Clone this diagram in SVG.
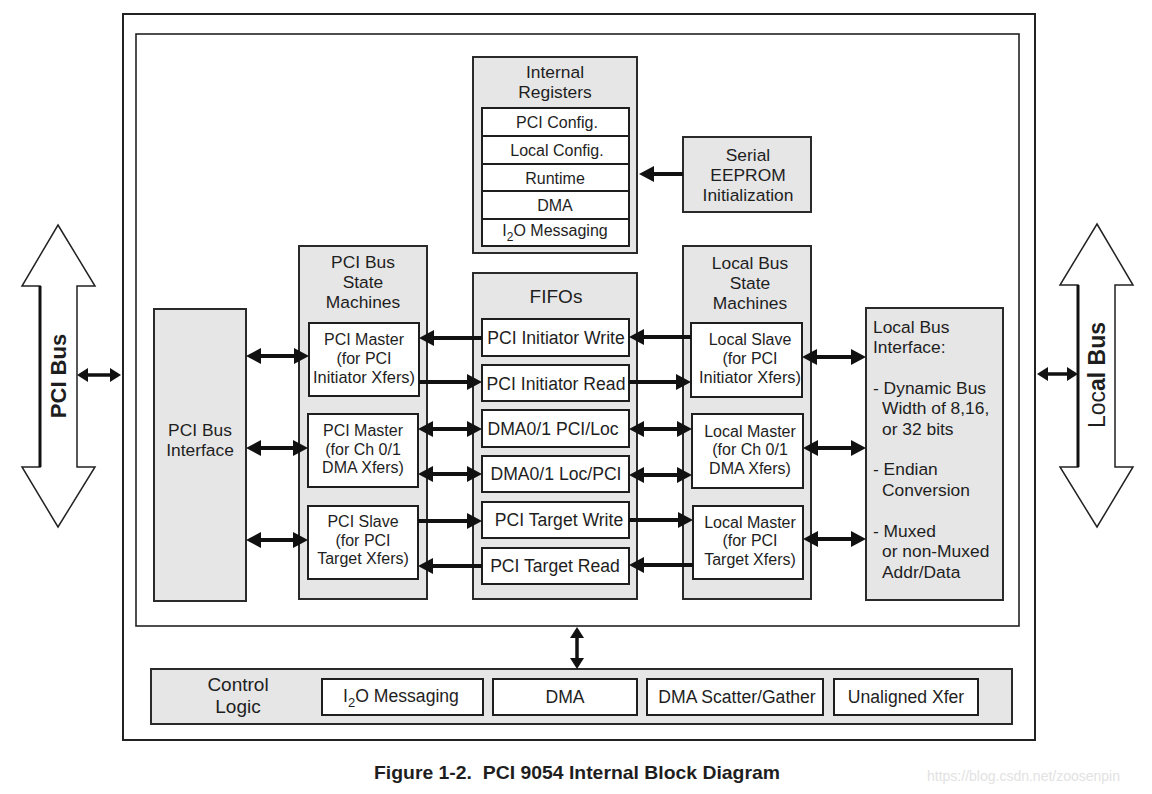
<svg xmlns="http://www.w3.org/2000/svg" width="1152" height="794" viewBox="0 0 1152 794">
<defs>
<style>
text{font-family:"Liberation Sans",Arial,sans-serif;fill:#1e1e1e;font-size:16px}
.c{text-anchor:middle}
.t{font-size:17.4px}
.g{fill:#e6e6e6;stroke:#2a2a2a;stroke-width:2}
.w{fill:#ffffff;stroke:#1e1e1e;stroke-width:2}
.f{font-size:17.6px}
.ln{stroke:#111;stroke-width:4;fill:none}
.sl{stroke:#111;stroke-width:3.5;fill:none}
.big{fill:#fff;stroke:#222;stroke-width:1.5}
</style>
<marker id="ah" markerUnits="userSpaceOnUse" markerWidth="16" markerHeight="16" refX="0" refY="8" orient="auto-start-reverse" overflow="visible"><path d="M0,0 L15,8 L0,16 z" fill="#111"/></marker>
<marker id="as" markerUnits="userSpaceOnUse" markerWidth="12" markerHeight="14" refX="0" refY="7" orient="auto-start-reverse" overflow="visible"><path d="M0,0 L11,7 L0,14 z" fill="#111"/></marker>
</defs>
<rect width="1152" height="794" fill="#fff"/>
<g id="frames">
<rect x="123" y="14" width="912" height="726" fill="none" stroke="#222" stroke-width="2"/>
<rect x="136" y="34" width="883" height="592" fill="none" stroke="#222" stroke-width="1.6"/>
</g>
<g id="pci-bus">
<polygon class="big" points="58,225 95,286 77,286 77,467 95,467 58,527 22,467 40,467 40,286 22,286"/>
<line x1="40" y1="286" x2="40" y2="467" stroke="#111" stroke-width="3"/>
<text transform="translate(66,376) rotate(-90)" class="c" style="font-weight:bold;font-size:22px">PCI Bus</text>
</g>
<g id="local-bus">
<polygon class="big" points="1097,224 1133,285 1115,285 1115,467 1133,467 1097,527 1060,467 1078,467 1078,285 1060,285"/>
<line x1="1078" y1="285" x2="1078" y2="467" stroke="#111" stroke-width="3"/>
<text transform="translate(1105,375) rotate(-90)" class="c" style="font-size:23px"><tspan>Loc</tspan><tspan style="font-weight:bold">al Bus</tspan></text>
</g>
<g id="internal-registers">
<rect class="g" x="473" y="57" width="164" height="196"/>
<text class="c t" x="555" y="78">Internal</text>
<text class="c t" x="555" y="98">Registers</text>
<rect class="w" x="482" y="108" width="147" height="28"/>
<rect class="w" x="482" y="136" width="147" height="28"/>
<rect class="w" x="482" y="164" width="147" height="27"/>
<rect class="w" x="482" y="191" width="147" height="28"/>
<rect class="w" x="482" y="219" width="147" height="27"/>
<text class="c" x="557" y="128">PCI Config.</text>
<text class="c" x="557" y="156">Local Config.</text>
<text class="c" x="555" y="184">Runtime</text>
<text class="c" x="555" y="211">DMA</text>
<text class="c" x="555" y="236">I<tspan dy="5" font-size="12">2</tspan><tspan dy="-5">O Messaging</tspan></text>
</g>
<g id="serial-eeprom">
<rect class="g" x="683" y="137" width="128" height="75"/>
<text class="c t" x="748" y="161">Serial</text>
<text class="c t" x="748" y="181">EEPROM</text>
<text class="c t" x="748" y="201">Initialization</text>
</g>
<g id="pci-bus-interface">
<rect class="g" x="154" y="309" width="92" height="292"/>
<text class="c t" x="200" y="436">PCI Bus</text>
<text class="c t" x="200" y="456">Interface</text>
</g>
<g id="pci-state-machines">
<rect class="g" x="299" y="246" width="128" height="353"/>
<text class="c t" x="363" y="268">PCI Bus</text>
<text class="c t" x="363" y="288">State</text>
<text class="c t" x="363" y="308">Machines</text>
<rect class="w" x="309" y="323" width="110" height="73"/>
<text class="c" x="364" y="345">PCI Master</text>
<text class="c" x="364" y="364">(for PCI</text>
<text class="c" x="364" y="383" style="font-size:16.4px">Initiator Xfers)</text>
<rect class="w" x="308" y="414" width="110" height="73"/>
<text class="c" x="363" y="436">PCI Master</text>
<text class="c" x="363" y="455">(for Ch 0/1</text>
<text class="c" x="363" y="473">DMA Xfers)</text>
<rect class="w" x="308" y="506" width="110" height="73"/>
<text class="c" x="363" y="527">PCI Slave</text>
<text class="c" x="363" y="546">(for PCI</text>
<text class="c" x="363" y="564">Target Xfers)</text>
</g>
<g id="fifos">
<rect class="g" x="473" y="273" width="164" height="326"/>
<text class="c" x="556" y="303" style="font-size:19px">FIFOs</text>
<rect class="w" x="482" y="319" width="147" height="37"/>
<rect class="w" x="482" y="365" width="147" height="36"/>
<rect class="w" x="482" y="410" width="147" height="37"/>
<rect class="w" x="482" y="456" width="147" height="36"/>
<rect class="w" x="482" y="502" width="147" height="36"/>
<rect class="w" x="482" y="548" width="147" height="36"/>
<text class="c f" x="556" y="344">PCI Initiator Write</text>
<text class="c f" x="556" y="390">PCI Initiator Read</text>
<text class="c f" x="553" y="435">DMA0/1 PCI/Loc</text>
<text class="c f" x="556" y="480">DMA0/1 Loc/PCI</text>
<text class="c f" x="559" y="526">PCI Target Write</text>
<text class="c f" x="555" y="572">PCI Target Read</text>
</g>
<g id="local-state-machines">
<rect class="g" x="683" y="246" width="128" height="353"/>
<text class="c t" x="750" y="269">Local Bus</text>
<text class="c t" x="750" y="289">State</text>
<text class="c t" x="750" y="309">Machines</text>
<rect class="w" x="691" y="323" width="111" height="74"/>
<text class="c" x="750" y="345">Local Slave</text>
<text class="c" x="750" y="364">(for PCI</text>
<text class="c" x="750" y="383" style="font-size:16.4px">Initiator Xfers)</text>
<rect class="w" x="692" y="414" width="111" height="74"/>
<text class="c" x="750" y="437">Local Master</text>
<text class="c" x="750" y="455">(for Ch 0/1</text>
<text class="c" x="750" y="474">DMA Xfers)</text>
<rect class="w" x="693" y="506" width="110" height="73"/>
<text class="c" x="750" y="528">Local Master</text>
<text class="c" x="750" y="546">(for PCI</text>
<text class="c" x="750" y="565">Target Xfers)</text>
</g>
<g id="local-bus-interface">
<rect class="g" x="866" y="308" width="137" height="292"/>
<text class="t" x="873" y="333">Local Bus</text>
<text class="t" x="873" y="353">Interface:</text>
<text class="t" x="873" y="394">- Dynamic Bus</text>
<text class="t" x="882" y="414">Width of 8,16,</text>
<text class="t" x="882" y="435">or 32 bits</text>
<text class="t" x="873" y="475">- Endian</text>
<text class="t" x="882" y="496">Conversion</text>
<text class="t" x="873" y="537">- Muxed</text>
<text class="t" x="882" y="557">or non-Muxed</text>
<text class="t" x="882" y="578">Addr/Data</text>
</g>
<g id="control-logic">
<rect class="g" x="151" y="669" width="861" height="55"/>
<text class="c" x="238" y="691" style="font-size:19px">Control</text>
<text class="c" x="238" y="713" style="font-size:19px">Logic</text>
<rect class="w" x="322" y="679" width="161" height="36"/>
<text class="c f" x="401" y="702">I<tspan dy="5" font-size="13">2</tspan><tspan dy="-5">O Messaging</tspan></text>
<rect class="w" x="493" y="679" width="144" height="36"/>
<text class="c f" x="565" y="703">DMA</text>
<rect class="w" x="647" y="679" width="176" height="36"/>
<text class="c f" x="737" y="703">DMA Scatter/Gather</text>
<rect class="w" x="834" y="679" width="144" height="36"/>
<text class="c f" x="906" y="703">Unaligned Xfer</text>
</g>
<g id="connectors">
<path class="ln" d="M683,174 H654" marker-end="url(#ah)"/>
<path class="ln" d="M261,356 H294" marker-start="url(#ah)" marker-end="url(#ah)"/>
<path class="ln" d="M261,448 H293" marker-start="url(#ah)" marker-end="url(#ah)"/>
<path class="ln" d="M261,540 H293" marker-start="url(#ah)" marker-end="url(#ah)"/>
<path class="ln" d="M482,338 H434" marker-end="url(#ah)"/>
<path class="ln" d="M419,382 H467" marker-end="url(#ah)"/>
<path class="ln" d="M433,429 H467" marker-start="url(#ah)" marker-end="url(#ah)"/>
<path class="ln" d="M433,474 H467" marker-start="url(#ah)" marker-end="url(#ah)"/>
<path class="ln" d="M418,521 H467" marker-end="url(#ah)"/>
<path class="ln" d="M482,566 H433" marker-end="url(#ah)"/>
<path class="ln" d="M691,337 H644" marker-end="url(#ah)"/>
<path class="ln" d="M629,382 H676" marker-end="url(#ah)"/>
<path class="ln" d="M644,429 H677" marker-start="url(#ah)" marker-end="url(#ah)"/>
<path class="ln" d="M644,475 H677" marker-start="url(#ah)" marker-end="url(#ah)"/>
<path class="ln" d="M629,520 H678" marker-end="url(#ah)"/>
<path class="ln" d="M693,565 H644" marker-end="url(#ah)"/>
<path class="ln" d="M817,357 H851" marker-start="url(#ah)" marker-end="url(#ah)"/>
<path class="ln" d="M818,448 H851" marker-start="url(#ah)" marker-end="url(#ah)"/>
<path class="ln" d="M818,539 H851" marker-start="url(#ah)" marker-end="url(#ah)"/>
<path class="sl" d="M88,375 H110" marker-start="url(#as)" marker-end="url(#as)"/>
<path class="sl" d="M1048,374 H1067" marker-start="url(#as)" marker-end="url(#as)"/>
<path class="sl" d="M577,638 V658" marker-start="url(#as)" marker-end="url(#as)"/>
</g>
<g id="caption">
<text class="c" x="577" y="779" xml:space="preserve" style="font-weight:bold;font-size:19px" textLength="406" lengthAdjust="spacingAndGlyphs">Figure 1-2.  PCI 9054 Internal Block Diagram</text>
<text x="927" y="781" style="font-size:14px;fill:#e2e2e2">https://blog.csdn.net/zoosenpin</text>
</g>
</svg>
